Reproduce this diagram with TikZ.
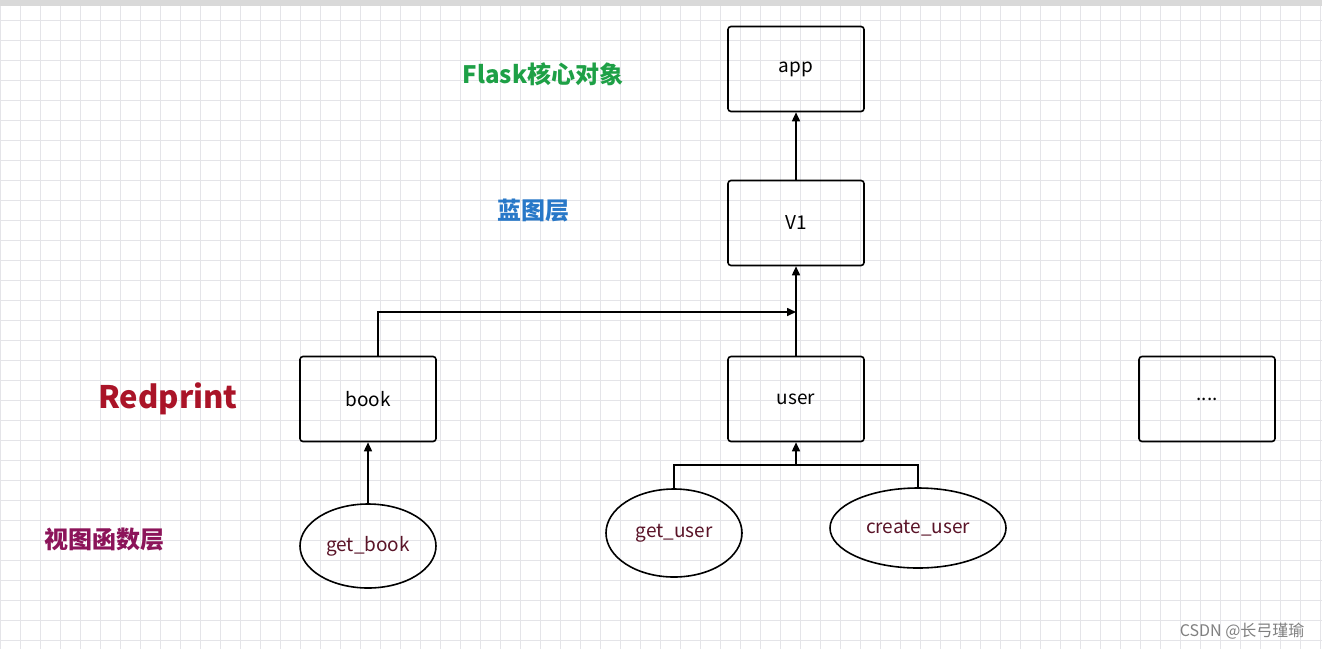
\documentclass[tikz,border=0pt]{standalone}
\usepackage{fontspec}
\setmainfont{Noto Sans CJK SC}
\usetikzlibrary{arrows.meta,shapes.geometric}
\definecolor{gridc}{RGB}{228,228,232}
\definecolor{fgreen}{RGB}{30,160,70}
\definecolor{fblue}{RGB}{40,120,200}
\definecolor{fred}{RGB}{170,20,40}
\definecolor{fpurple}{RGB}{140,20,90}
\definecolor{namec}{RGB}{90,20,40}
\begin{document}
\begin{tikzpicture}[x=1pt,y=-1pt,
  box/.style={draw,line width=1.6pt,rounded corners=3pt,minimum width=136pt,minimum height=85pt,font=\fontsize{19}{20}\selectfont},
  ell/.style={draw,line width=1.6pt,ellipse,inner sep=0pt,font=\fontsize{19}{20}\selectfont,text=namec},
  con/.style={line width=1.6pt},
  arr/.style={con,-{Triangle[length=9pt,width=8pt]}}]
\useasboundingbox (0,0) rectangle (1322,649);
\fill[white] (0,0) rectangle (1322,649);
\draw[gridc,line width=0.6pt,step=20pt] (0,0) grid (1322,649);
\fill[gray!30] (0,0) rectangle (1322,6);
\node[box] (app) at (796,69) {app};
\node[box] (v1) at (796,223) {V1};
\node[box] (book) at (368,399) {book};
\node[box] (user) at (796,399) {user};
\node[box] (dots) at (1207,399) {....};
\node[ell,minimum width=136pt,minimum height=84pt] (gb) at (368,546) {get\_book};
\node[ell,minimum width=136pt,minimum height=88pt] (gu) at (674,533) {get\_user};
\node[ell,minimum width=176pt,minimum height=80pt] (cu) at (918,528) {create\_user};
\node[text=fgreen,font=\fontsize{24}{26}\selectfont\bfseries] (l1) at (543,74) {Flask核心对象};
\node[text=fblue,font=\fontsize{24}{26}\selectfont\bfseries] (l2) at (533,211) {蓝图层};
\node[text=fred,font=\fontsize{31}{33}\selectfont\bfseries] (l3) at (168,399) {Redprint};
\node[text=fpurple,font=\fontsize{24}{26}\selectfont\bfseries] (l4) at (104,539) {视图函数层};
\node[text=gray,font=\fontsize{16}{18}\selectfont,anchor=east] (wm) at (1308,631) {CSDN @长弓瑾瑜};
\draw[arr] (v1) -- (app);
\draw[arr] (user) -- (v1);
\draw[arr] (book.north -| 378,0) |- (796,312);
\draw[arr] (gb) -- (book);
\coordinate (j) at (796,465);
\draw[con] (gu.north) |- (j) -| (cu.north);
\draw[arr] (j) -- (user);
\end{tikzpicture}
\end{document}
